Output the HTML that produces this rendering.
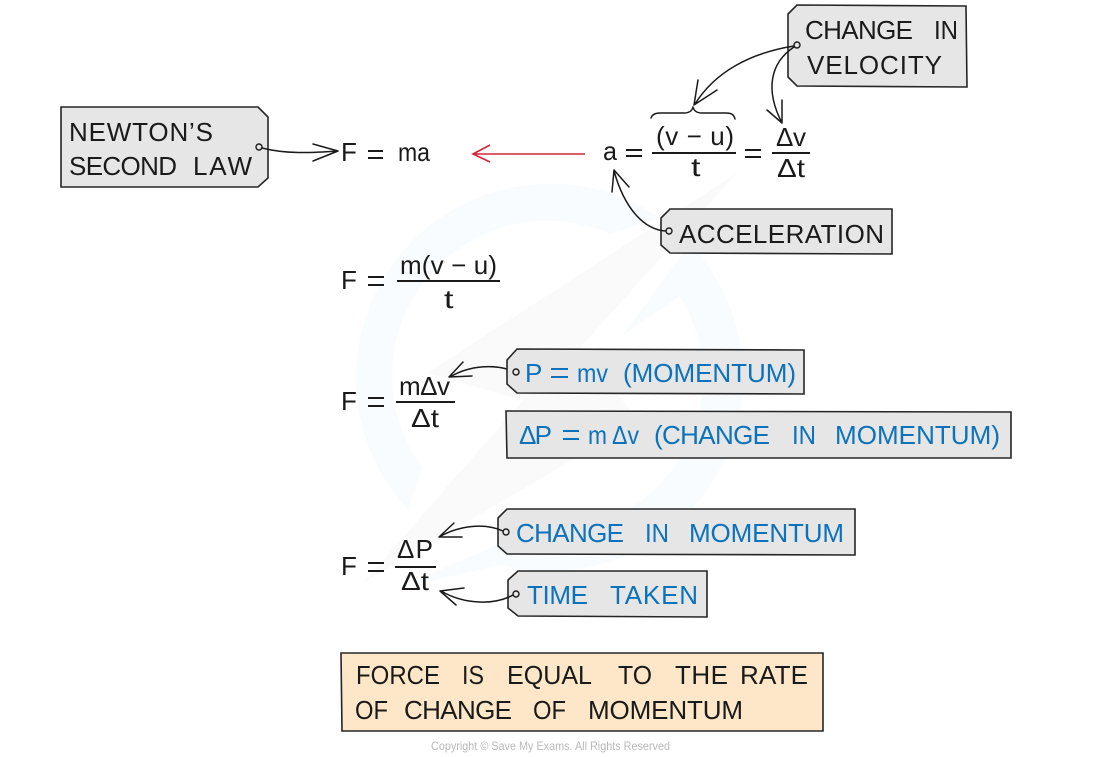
<!DOCTYPE html>
<html><head><meta charset="utf-8"><style>
html,body{margin:0;padding:0;background:#fff;width:1100px;height:757px;overflow:hidden}
svg{display:block}
text{font-family:"Liberation Sans",sans-serif;font-size:26px;fill:#1a1a1a}
.b{fill:#0b72bb}
.tag{fill:#e6e6e6;stroke:#262626;stroke-width:1.6}
.l{fill:none;stroke:#1a1a1a;stroke-width:1.5;stroke-linecap:round;stroke-linejoin:round}
.f{fill:none;stroke:#1a1a1a;stroke-width:2}
.fb{fill:none;stroke:#0b72bb;stroke-width:2}
.c{fill:none;stroke:#1a1a1a;stroke-width:1.4}
</style></head><body>
<svg width="1100" height="757" viewBox="0 0 1100 757" xmlns="http://www.w3.org/2000/svg">
<!-- watermark -->
<path d="M408 510 A194 194 0 0 1 660 218 L610 234 A155 155 0 0 0 422 467 Z" fill="#f8fcfe"/>
<path d="M690 244 A194 194 0 0 1 500 565 L395 589 L530 531 A155 155 0 0 0 680 296 L623 335 Z" fill="#f8fcfe"/>
<path d="M737 173 L427 373 L523 400 L363 583 L640 420 L578 350 Z" fill="#fafafa"/>

<!-- Newton tag -->
<polygon class="tag" points="61,107 258,107 268,117 268,178 258,187 61,187"/>
<text x="69" y="141" textLength="144" lengthAdjust="spacing">NEWTON’S</text>
<text x="69" y="175" textLength="108" lengthAdjust="spacing">SECOND</text>
<text x="193" y="175" textLength="59" lengthAdjust="spacing">LAW</text>
<circle class="c" cx="259" cy="147" r="3"/>
<path class="l" d="M262 148 C285 154 310 153 338 151 M313 144 L338 151 L313 161"/>

<!-- F = ma -->
<text x="341" y="161">F</text>
<path class="f" d="M368 151H383M368 158H383"/>
<text x="398" y="161" textLength="32" lengthAdjust="spacingAndGlyphs">ma</text>

<!-- red arrow -->
<path d="M585 154H473M490 145L473 154L490 162" fill="none" stroke="#d3263a" stroke-width="1.6"/>

<!-- a = -->
<text x="603" y="160" textLength="14" lengthAdjust="spacingAndGlyphs">a</text>
<path class="f" d="M626 150H642M626 156H642"/>
<path class="f" d="M652 153H736"/>
<text x="656" y="145" textLength="78" lengthAdjust="spacing">(v − u)</text>
<text x="691" y="176" textLength="9.5" lengthAdjust="spacingAndGlyphs">t</text>
<path class="f" d="M745 150H761M745 157H761"/>
<path class="f" d="M772 153H810"/>
<text x="776" y="146" textLength="30" lengthAdjust="spacing">Δv</text>
<text x="777" y="177" textLength="28" lengthAdjust="spacingAndGlyphs">Δt</text>
<path class="l" d="M651 118 C652 115 655 113 660 113 H684 C689 113 692 111 693 107 C694 111 697 113 702 113 H726 C732 113 734 115 735 119"/>

<!-- Change in velocity -->
<polygon class="tag" points="788,14 797,5 966,6 967,87 797,86 788,77"/>
<text x="805" y="39" textLength="108" lengthAdjust="spacing">CHANGE</text>
<text x="934" y="39" textLength="24" lengthAdjust="spacingAndGlyphs">IN</text>
<text x="807" y="74" textLength="135" lengthAdjust="spacing">VELOCITY</text>
<circle class="c" cx="797" cy="45" r="3"/>
<path class="l" d="M794 46 C750 53 715 72 695 104 M698 80 L694 105 L717 90"/>
<path class="l" d="M794 47 C770 63 765 90 782 123 M767 110 L782 123 L782 100"/>

<!-- Acceleration -->
<polygon class="tag" points="661,218 670,209 892,209 892,254 670,253 661,245"/>
<text x="679" y="243" textLength="205" lengthAdjust="spacing">ACCELERATION</text>
<circle class="c" cx="669" cy="231" r="3"/>
<path class="l" d="M666 231 C645 230 625 210 614 171 M612 192 L614 170 L629 187"/>

<!-- F = m(v-u)/t -->
<text x="341" y="289">F</text>
<path class="f" d="M368 277H384M368 285H384"/>
<path class="f" d="M397 281H500"/>
<text x="400" y="274" textLength="97" lengthAdjust="spacing">m(v − u)</text>
<text x="444" y="308" textLength="9.5" lengthAdjust="spacingAndGlyphs">t</text>

<!-- F = mΔv/Δt -->
<text x="341" y="410">F</text>
<path class="f" d="M368 398H384M368 406H384"/>
<path class="f" d="M396 402H455"/>
<text x="399" y="395" textLength="51" lengthAdjust="spacing">mΔv</text>
<text x="411" y="427" textLength="28" lengthAdjust="spacingAndGlyphs">Δt</text>
<path class="l" d="M513 371 C495 364 470 365 450 377 M463 362 L449 377 L472 376"/>

<!-- P = mv -->
<polygon class="tag" points="507,360 517,349 804,350 804,394 517,393 507,384"/>
<circle class="c" cx="516" cy="372" r="3"/>
<text class="b" x="525" y="382">P</text>
<path class="fb" d="M551 369H568M551 377H568"/>
<text class="b" x="577" y="382" textLength="31" lengthAdjust="spacingAndGlyphs">mv</text>
<text class="b" x="623" y="382" textLength="173" lengthAdjust="spacing">(MOMENTUM)</text>

<!-- ΔP = mΔv -->
<polygon class="tag" points="506,411 1011,412 1011,458 507,458"/>
<text class="b" x="519" y="444" textLength="33" lengthAdjust="spacing">ΔP</text>
<path class="fb" d="M563 431H579M563 439H579"/>
<text class="b" x="588" y="444" textLength="19" lengthAdjust="spacingAndGlyphs">m</text>
<text class="b" x="612" y="444" textLength="27" lengthAdjust="spacingAndGlyphs">Δv</text>
<text class="b" x="654" y="444" textLength="116" lengthAdjust="spacing">(CHANGE</text>
<text class="b" x="792" y="444" textLength="24" lengthAdjust="spacingAndGlyphs">IN</text>
<text class="b" x="835" y="444" textLength="165" lengthAdjust="spacing">MOMENTUM)</text>

<!-- F = ΔP/Δt -->
<text x="341" y="575">F</text>
<path class="f" d="M368 563H384M368 571H384"/>
<path class="f" d="M395 567H436"/>
<text x="397" y="558" textLength="36" lengthAdjust="spacing">ΔP</text>
<text x="401" y="590" textLength="28" lengthAdjust="spacingAndGlyphs">Δt</text>

<!-- Change in momentum -->
<polygon class="tag" points="498,518 507,509 855,509 855,555 507,554 498,546"/>
<circle class="c" cx="506" cy="532" r="3"/>
<text class="b" x="516" y="542" textLength="108" lengthAdjust="spacing">CHANGE</text>
<text class="b" x="645" y="542" textLength="24" lengthAdjust="spacingAndGlyphs">IN</text>
<text class="b" x="689" y="542" textLength="155" lengthAdjust="spacing">MOMENTUM</text>
<path class="l" d="M503 531 C485 523 460 525 439 537 M454 523 L439 537 L462 537"/>

<!-- Time taken -->
<polygon class="tag" points="508,580 518,571 707,571 707,617 518,616 508,608"/>
<circle class="c" cx="516" cy="594" r="3"/>
<text class="b" x="527" y="604" textLength="61" lengthAdjust="spacing">TIME</text>
<text class="b" x="610" y="604" textLength="88" lengthAdjust="spacing">TAKEN</text>
<path class="l" d="M513 595 C495 605 465 605 441 591 M464 588 L440 591 L456 605"/>

<!-- Force box -->
<polygon points="341,653 823,653 823,731 342,731" fill="#fee7c8" stroke="#262626" stroke-width="1.6"/>
<text x="356" y="684" textLength="84" lengthAdjust="spacingAndGlyphs">FORCE</text>
<text x="462" y="684" textLength="22" lengthAdjust="spacingAndGlyphs">IS</text>
<text x="507" y="684" textLength="85" lengthAdjust="spacingAndGlyphs">EQUAL</text>
<text x="618" y="684" textLength="34" lengthAdjust="spacingAndGlyphs">TO</text>
<text x="675" y="684" textLength="53" lengthAdjust="spacing">THE</text>
<text x="740" y="684" textLength="68" lengthAdjust="spacing">RATE</text>
<text x="355" y="719" textLength="33" lengthAdjust="spacingAndGlyphs">OF</text>
<text x="404" y="719" textLength="108" lengthAdjust="spacing">CHANGE</text>
<text x="533" y="719" textLength="33" lengthAdjust="spacingAndGlyphs">OF</text>
<text x="588" y="719" textLength="155" lengthAdjust="spacing">MOMENTUM</text>

<text x="431" y="750" textLength="239" lengthAdjust="spacingAndGlyphs" style="font-size:12px;fill:#b8b8b8">Copyright © Save My Exams. All Rights Reserved</text>
</svg>
</body></html>
